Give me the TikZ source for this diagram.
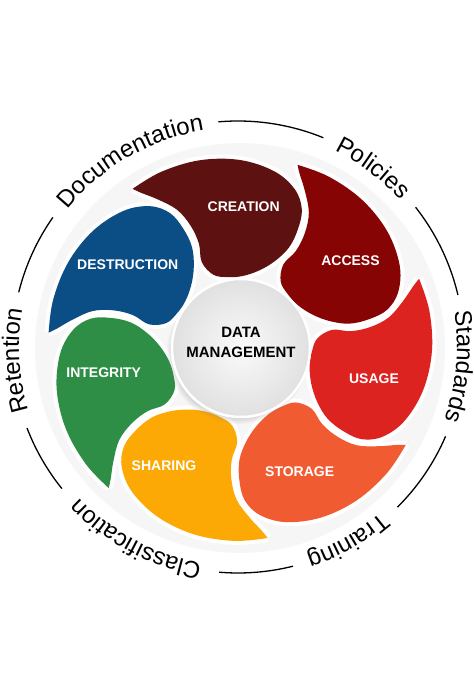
\documentclass[tikz,border=0pt]{standalone}
\usepackage{fontspec}
\setmainfont{Liberation Sans}
\usetikzlibrary{decorations.text}
\usetikzlibrary{shadows}
\usetikzlibrary{math}

\definecolor{creationred}{HTML}{5E1111}
\definecolor{accessred}{HTML}{870404}
\definecolor{usagered}{HTML}{DC231F}
\definecolor{storageorange}{HTML}{F15B31}
\definecolor{sharingyellow}{HTML}{FDA905}
\definecolor{integritygreen}{HTML}{2F8E46}
\definecolor{destructionblue}{HTML}{0B4E86}

\newcommand{\ringfont}{\fontsize{24}{24}\selectfont}
\newcommand{\petalshape}{plot[smooth, tension=.6] coordinates {(36:192) (26:193) (14:192) (2:188) (-9:180) (-17:168) (-22:152) (-24:132) (-24:112) (-20:94) (-12:80) (0:72) (12:72) (22:78) (26:94) (23.5:112) (24:132) (26.5:152) (31:170) (34.5:184) (36:192)}}

\begin{document}
\begin{tikzpicture}[x=1pt, y=1pt,
    ringtext/.style={decorate, decoration={text along path, text align=center}},
    ringline/.style={line width=1.3pt, black},
    petallabel/.style={text=white, font=\fontsize{14}{16}\selectfont\bfseries},
    hub/.style={circle, minimum size=138pt, inner sep=0pt, draw=white, line width=2.5pt,
        inner color=gray!4, outer color=gray!24,
        circular drop shadow={shadow xshift=-3pt, shadow yshift=-4pt, shadow scale=1.04, opacity=.45}}]

    \useasboundingbox (-238,-350) rectangle (236,347);
    \tikzmath{\rb = 219; \rr = 226;}

    % faint disk behind the wheel
    \fill[gray!7] (2,-1) circle[radius=205];

    % petals, white gaps first
    \foreach \k in {0,...,6} {
        \draw[white, line width=8pt, line join=round, shift={(2,-1)}, rotate=88-51.43*\k] \petalshape;
    }
    \foreach \k/\col in {0/creationred, 1/accessred, 2/usagered, 3/storageorange,
                         4/sharingyellow, 5/integritygreen, 6/destructionblue} {
        \fill[\col, shift={(2,-1)}, rotate=88-51.43*\k] \petalshape;
    }

    \node[petallabel] (creation) at (5.7,140) {CREATION};
    \node[petallabel] (access) at (112.5,86) {ACCESS};
    \node[petallabel] (usage) at (136,-32) {USAGE};
    \node[petallabel] (storage) at (61.7,-125) {STORAGE};
    \node[petallabel] (sharing) at (-74,-119) {SHARING};
    \node[petallabel] (integrity) at (-134.3,-25.5) {INTEGRITY};
    \node[petallabel] (destruction) at (-110.2,82) {DESTRUCTION};

    % hub
    \node[hub] (dm) at (3,-1) {};
    \node[align=center, font=\fontsize{15}{20}\selectfont\bfseries] (dmtext) at (3,5) {DATA\\MANAGEMENT};

    % outer ring
    \draw[ringline] (95:\rr) arc[start angle=95, end angle=67.8, radius=\rr];
    \draw[ringline] (38.2:\rr) arc[start angle=38.2, end angle=13.3, radius=\rr];
    \draw[ringline] (-23.3:\rr) arc[start angle=-23.3, end angle=-45.1, radius=\rr];
    \draw[ringline] (-75.9:\rr) arc[start angle=-75.9, end angle=-94.8, radius=\rr];
    \draw[ringline] (-141.2:\rr) arc[start angle=-141.2, end angle=-159, radius=\rr];
    \draw[ringline] (166:\rr) arc[start angle=166, end angle=145, radius=\rr];

    \path[ringtext, decoration={text={|\ringfont|Documentation}}] (150:\rb) arc[start angle=150, end angle=90, radius=\rb];
    \path[ringtext, decoration={text={|\ringfont|Policies}}] (70:\rb) arc[start angle=70, end angle=36, radius=\rb];
    \path[ringtext, decoration={text={|\ringfont|Standards}}] (15:\rb) arc[start angle=15, end angle=-25, radius=\rb];
    \path[ringtext, decoration={text={|\ringfont|Training}}] (-42:\rb) arc[start angle=-42, end angle=-79, radius=\rb];
    \path[ringtext, decoration={text={|\ringfont|Classification}}] (-90:\rb) arc[start angle=-90, end angle=-146, radius=\rb];
    \path[ringtext, decoration={text={|\ringfont|Retention}}] (204:\rb) arc[start angle=204, end angle=163, radius=\rb];

\end{tikzpicture}
\end{document}
